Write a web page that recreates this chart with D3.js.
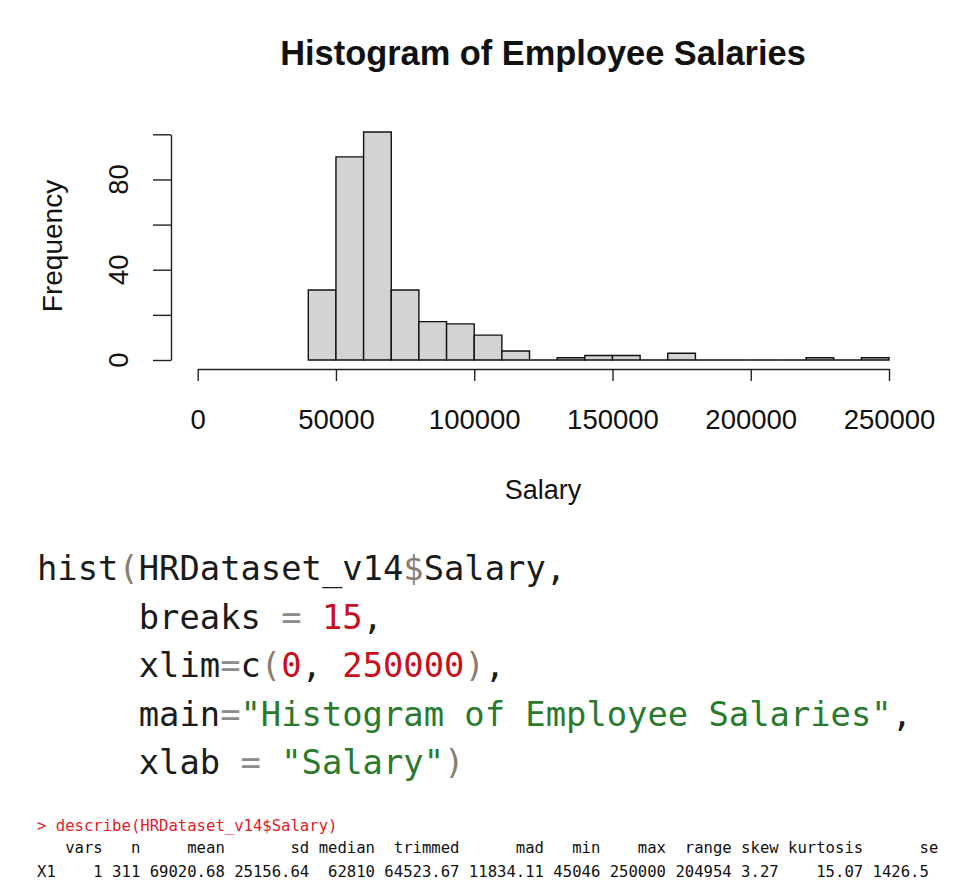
<!DOCTYPE html>
<html>
<head>
<meta charset="utf-8">
<script src="https://cdn.jsdelivr.net/npm/d3@7"></script>
<style>
  body { margin: 0; background: #fff; }
  svg text { white-space: pre; }
</style>
</head>
<body>
<div id="chart"></div>
<script>
// histogram bins (lower edges) and counts
var binStarts = [40000, 50000, 60000, 70000, 80000, 90000, 100000, 110000, 120000, 130000,
                 140000, 150000, 160000, 170000, 180000, 190000, 200000, 210000, 220000, 230000, 240000];
var binWidth = 10000;
var counts = [31, 90, 101, 31, 17, 16, 11, 4, 0, 1, 2, 2, 0, 3, 0, 0, 0, 0, 1, 0, 1];

var xTicks = [0, 50000, 100000, 150000, 200000, 250000];
var yTicks = [0, 20, 40, 60, 80, 100];
var yLabels = [0, 40, 80];

var codeLines = [
  [["hist", "#1b1b1b"], ["(", "#8a7c70"], ["HRDataset_v14", "#1b1b1b"], ["$", "#8a7c70"], ["Salary,", "#1b1b1b"]],
  [["     breaks ", "#1b1b1b"], ["=", "#8c8c8c"], [" ", "#1b1b1b"], ["15", "#c8101c"], [",", "#1b1b1b"]],
  [["     xlim", "#1b1b1b"], ["=", "#8c8c8c"], ["c", "#1b1b1b"], ["(", "#8a7c70"], ["0", "#c8101c"], [", ", "#1b1b1b"], ["250000", "#c8101c"], [")", "#8a7c70"], [",", "#1b1b1b"]],
  [["     main", "#1b1b1b"], ["=", "#8c8c8c"], ["\"Histogram of Employee Salaries\"", "#2a7a2e"], [",", "#1b1b1b"]],
  [["     xlab ", "#1b1b1b"], ["=", "#8c8c8c"], [" ", "#1b1b1b"], ["\"Salary\"", "#2a7a2e"], [")", "#8a7c70"]]
];

var consoleCmd = "> describe(HRDataset_v14$Salary)";
var consoleHeader = "   vars   n     mean       sd median  trimmed      mad   min    max  range skew kurtosis      se";
var consoleRow    = "X1    1 311 69020.68 25156.64  62810 64523.67 11834.11 45046 250000 204954 3.27    15.07 1426.5";

var width = 968, height = 896;

var svg = d3.select("#chart").append("svg")
  .attr("width", width)
  .attr("height", height);

var x = d3.scaleLinear().domain([0, 250000]).range([197.7, 889]);
var y = d3.scaleLinear().domain([0, 100]).range([360, 134.3]);

// title
svg.append("text")
  .attr("x", 543)
  .attr("y", 65)
  .attr("text-anchor", "middle")
  .style("font-family", "Liberation Sans, Arial, sans-serif")
  .style("font-weight", "bold")
  .style("font-size", "34.4px")
  .attr("fill", "#111")
  .text("Histogram of Employee Salaries");

// bars (paths so that empty bins still show as a line on the baseline)
svg.append("g")
  .selectAll("path")
  .data(counts)
  .enter().append("path")
  .attr("d", function(d, i) {
    var x0 = x(binStarts[i]), x1 = x(binStarts[i] + binWidth);
    return "M" + x0 + "," + y(0) + "V" + y(d) + "H" + x1 + "V" + y(0) + "Z";
  })
  .attr("fill", "#d3d3d3")
  .attr("stroke", "#111")
  .attr("stroke-width", 1.4);

// x axis
var xAxis = d3.axisBottom(x)
  .tickValues(xTicks)
  .tickFormat(d3.format("d"))
  .tickSizeOuter(0)
  .tickSizeInner(12)
  .tickPadding(28);

var gx = svg.append("g")
  .attr("transform", "translate(0,369)")
  .call(xAxis);
gx.selectAll("path, line").attr("stroke", "#222").attr("stroke-width", 1.4);
gx.selectAll("text")
  .style("font-family", "Liberation Sans, Arial, sans-serif")
  .style("font-size", "27.5px")
  .attr("fill", "#111");

// y axis
var yAxis = d3.axisLeft(y)
  .tickValues(yTicks)
  .tickFormat("")
  .tickSizeOuter(0)
  .tickSizeInner(18);

var gy = svg.append("g")
  .attr("transform", "translate(171,0)")
  .call(yAxis);
gy.selectAll("path, line").attr("stroke", "#222").attr("stroke-width", 1.4);

svg.append("g")
  .selectAll("text")
  .data(yLabels)
  .enter().append("text")
  .attr("transform", function(d) { return "translate(128," + y(d) + ") rotate(-90)"; })
  .attr("text-anchor", "middle")
  .style("font-family", "Liberation Sans, Arial, sans-serif")
  .style("font-size", "27.5px")
  .attr("fill", "#111")
  .text(function(d) { return d; });

// axis titles
svg.append("text")
  .attr("x", 543)
  .attr("y", 499)
  .attr("text-anchor", "middle")
  .style("font-family", "Liberation Sans, Arial, sans-serif")
  .style("font-size", "27px")
  .attr("fill", "#111")
  .text("Salary");

svg.append("text")
  .attr("transform", "translate(62,246) rotate(-90)")
  .attr("text-anchor", "middle")
  .style("font-family", "Liberation Sans, Arial, sans-serif")
  .style("font-size", "28px")
  .attr("fill", "#111")
  .text("Frequency");

// code block
var codeBase = [580, 629, 677, 726, 774];
var code = svg.append("g")
  .style("font-family", "DejaVu Sans Mono, monospace")
  .style("font-size", "33.8px");

codeLines.forEach(function(parts, i) {
  var t = code.append("text").attr("x", 37).attr("y", codeBase[i]);
  parts.forEach(function(p) {
    t.append("tspan").attr("fill", p[1]).text(p[0]);
  });
});

// console output
var con = svg.append("g")
  .style("font-family", "DejaVu Sans Mono, monospace")
  .style("font-size", "15.6px");

con.append("text").attr("x", 37).attr("y", 831).attr("fill", "#e0202a").text(consoleCmd);
con.append("text").attr("x", 37).attr("y", 853).attr("fill", "#111").text(consoleHeader);
con.append("text").attr("x", 37).attr("y", 877).attr("fill", "#111").text(consoleRow);
</script>
</body>
</html>
